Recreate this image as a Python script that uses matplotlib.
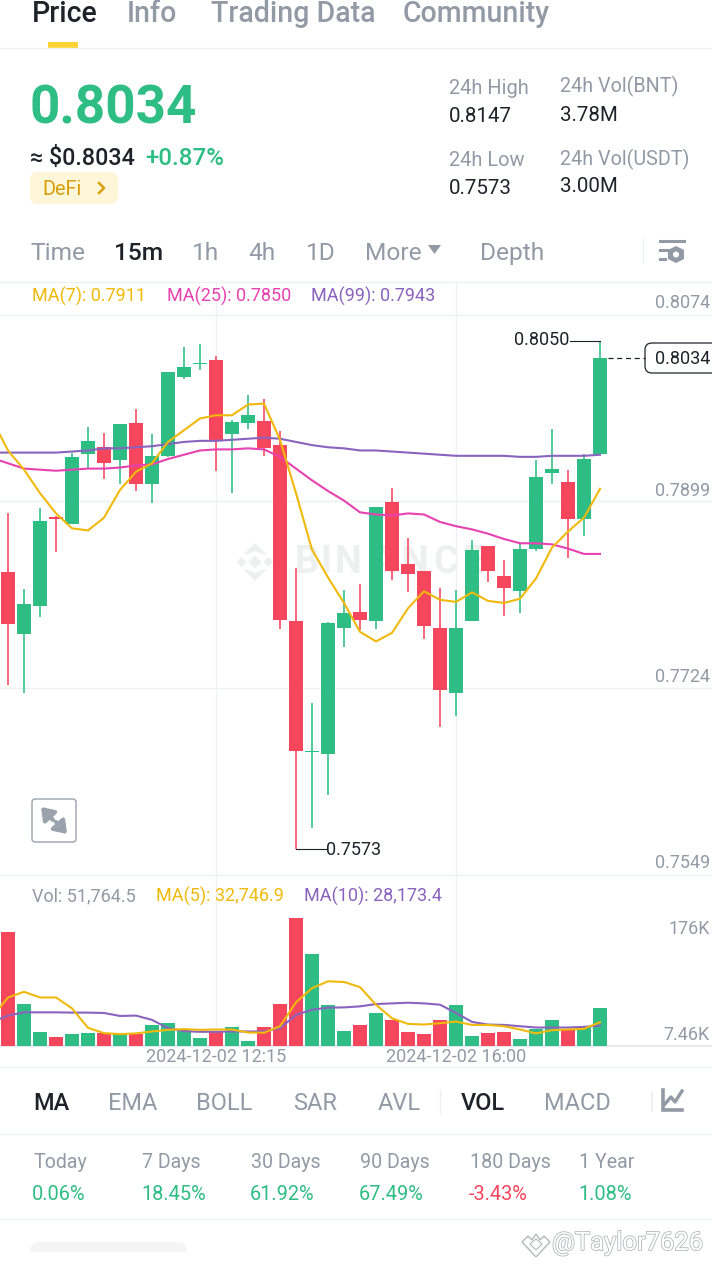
import matplotlib
matplotlib.use('Agg')
import matplotlib.pyplot as plt
from matplotlib.patches import FancyBboxPatch, Polygon, Rectangle
import matplotlib.patheffects as pe

plt.rcParams['font.family'] = ['Roboto', 'DejaVu Sans']

W, H = 712, 1266
GREEN = '#2EBD85'
RED = '#F6465D'
YELLOW = '#F0B90B'
PINK = '#E841B0'
PURPLE = '#8A63BE'
GREY = '#929AA5'
DARK = '#1E2329'
LINE = '#EEF0F2'

# candles, 15m
open_ = [.7833, .7775, .7801, .7884, .7878, .7944, .7950, .7938, .7973, .7916,
         .7942, .8016, .8028, .8032, .7962, .7973, .7975, .7952, .7787, .7664,
         .7662, .7781, .7796, .7787, .7899, .7841, .7834, .7781, .7720, .7787,
         .7857, .7829, .7815, .7855, .7926, .7917, .7883, .7944]
high = [.7888, .7817, .7893, .7886, .7945, .7969, .7963, .7972, .7986, .7962,
        .8021, .8044, .8047, .8036, .7976, .7999, .7995, .7965, .7837, .7710,
        .7786, .7816, .7822, .7894, .7912, .7865, .7834, .7818, .7816, .7863,
        .7857, .7844, .7861, .7938, .7967, .7929, .7944, .8050]
low = [.7727, .7720, .7791, .7852, .7878, .7930, .7920, .7916, .7909, .7898,
       .7941, .8014, .8022, .7928, .7907, .7967, .7942, .7780, .7573, .7593,
       .7624, .7763, .7779, .7780, .7826, .7814, .7770, .7688, .7698, .7787,
       .7824, .7792, .7795, .7853, .7916, .7846, .7867, .7944]
close = [.7784, .7803, .7881, .7883, .7941, .7956, .7935, .7972, .7916, .7942,
         .8021, .8025, .8029, .7956, .7974, .7980, .7949, .7788, .7665, .7665,
         .7785, .7795, .7788, .7894, .7834, .7831, .7782, .7722, .7781, .7854,
         .7834, .7818, .7855, .7922, .7930, .7883, .7939, .8034]

# moving averages start one candle before the first visible one
ma7 = [.7976, .7947, .7929, .7907, .7888, .7874, .7872, .7884, .7910, .7927,
       .7935, .7955, .7966, .7977, .7980, .7980, .7990, .7991, .7957, .7907,
       .7854, .7828, .7804, .7777, .7768, .7776, .7799, .7815, .7807, .7805,
       .7814, .7806, .7804, .7808, .7827, .7856, .7871, .7884, .7911]
ma25 = [.7940, .7935, .7930, .7929, .7928, .7929, .7930, .7930, .7931, .7933,
        .7934, .7939, .7943, .7947, .7948, .7948, .7949, .7948, .7941, .7930,
        .7919, .7909, .7900, .7889, .7887, .7886, .7888, .7887, .7880, .7876,
        .7873, .7869, .7864, .7860, .7860, .7859, .7855, .7850, .7850]
ma99 = [.7945, .7945, .7945, .7945, .7945, .7946, .7947, .7949, .7949, .7950,
        .7951, .7953, .7955, .7956, .7956, .7957, .7958, .7959, .7958, .7955,
        .7952, .7950, .7949, .7947, .7947, .7946, .7945, .7944, .7943, .7942,
        .7942, .7942, .7942, .7941, .7941, .7942, .7942, .7942, .7943]

# volume in thousands
volume = [157, 57.7, 18.6, 11.8, 15.9, 18.2, 18, 15.9, 16.8, 29.1,
          31.3, 23.6, 11.4, 21.3, 25.9, 7.46, 25.9, 57.7, 176, 127,
          56.8, 21.3, 29.5, 45, 35.9, 18.6, 16.8, 36.3, 56.8, 13.2,
          17.7, 18.6, 9.1, 24, 35.9, 23.6, 25.9, 51.8]
vol_ma5 = [39.5, 66.7, 74.5, 66.7, 66.7, 51.8, 25, 17.7, 16.3, 17.3,
           20, 22.2, 23.2, 22.2, 22.7, 22.7, 18.6, 18.2, 27.2, 60,
           79.5, 89, 88, 81, 56.7, 38.1, 30.4, 29.5, 31.3, 33.6,
           29, 29, 27.2, 22.7, 17.3, 21.8, 22.7, 23.6, 32.7]
vol_ma10 = [32.7, 41.8, 46.3, 46.3, 46.3, 45.9, 45.9, 45.4, 41.3, 41.8,
            35.9, 24.5, 20.4, 19.5, 19.5, 20, 20, 20, 24.5, 42.7,
            49.9, 52.7, 53.1, 54.5, 57.7, 58.6, 59.5, 58.6, 56.8, 45.4,
            33.1, 29.5, 29, 27.2, 25.4, 25.4, 25.4, 26.3, 28.1]

price_ticks = ['0.8074', '0.7899', '0.7724', '0.7549']
tabs = ['Price', 'Info', 'Trading Data', 'Community']
intervals = ['Time', '15m', '1h', '4h', '1D', 'More', 'Depth']
indicators = ['MA', 'EMA', 'BOLL', 'SAR', 'AVL', 'VOL', 'MACD']
periods = ['Today', '7 Days', '30 Days', '90 Days', '180 Days', '1 Year']
period_vals = ['0.06%', '18.45%', '61.92%', '67.49%', '-3.43%', '1.08%']


def px_axes(fig, left, top, right, bottom, **kw):
    return fig.add_axes([left / W, 1 - bottom / H, (right - left) / W, (bottom - top) / H], **kw)


def txt(ax, x, y, s, size, color=GREY, ha='left', weight='normal'):
    # size is in pixels of the screenshot, y a bit lower since va=center counts the descent
    return ax.text(x, y + 1.5, s, fontsize=size * 0.72, color=color, ha=ha, va='center', weight=weight)


fig = plt.figure(figsize=(W / 100, H / 100), dpi=100, facecolor='white')

bg = fig.add_axes([0, 0, 1, 1], zorder=0)
bg.set_xlim(0, W)
bg.set_ylim(H, 0)
bg.axis('off')

# separators and grid
for y in [48, 282, 315, 501, 688, 875, 1067, 1134, 1219]:
    bg.plot([0, W], [y, y], color=LINE, lw=1.0)
for x in [216, 456]:
    bg.plot([x, x], [282, 1046], color=LINE, lw=1.0)
bg.plot([0, W], [1046, 1046], color='#E6E8EA', lw=1.4)
bg.plot([440, 440], [1090, 1113], color=LINE, lw=1.0)
bg.plot([652, 652], [1093, 1111], color=LINE, lw=1.5)
bg.plot([643, 643], [239, 263], color=LINE, lw=1.0)

# header
for x, s, c in zip([32, 127, 211, 403], tabs, [DARK, GREY, GREY, GREY]):
    txt(bg, x, 12, s, 28.5, c, weight='medium')
bg.add_patch(Rectangle((48, 42), 30, 6, color='#FCD535', lw=0))
txt(bg, 30, 107, '0.8034', 53, GREEN, weight='bold')
txt(bg, 30, 157, '≈ $0.8034', 23.3, DARK, weight='medium')
txt(bg, 145, 157, '+0.87%', 24, GREEN, weight='medium')
bg.add_patch(FancyBboxPatch((30, 172), 88, 32, boxstyle='round,pad=0,rounding_size=8',
                            fc='#FEF6D8', ec='none'))
txt(bg, 42, 188, 'DeFi', 20, '#D89F0B')
bg.plot([99, 104, 99], [183, 188, 193], color='#D89F0B', lw=1.8)

txt(bg, 449, 87, '24h High', 20)
txt(bg, 449, 115, '0.8147', 20.5, DARK)
txt(bg, 560, 85, '24h Vol(BNT)', 19.8)
txt(bg, 560, 114, '3.78M', 20.5, DARK)
txt(bg, 449, 159, '24h Low', 20)
txt(bg, 449, 187, '0.7573', 20.5, DARK)
txt(bg, 560, 158, '24h Vol(USDT)', 19.8)
txt(bg, 560, 185, '3.00M', 20.5, DARK)

for x, s, c, w in zip([30, 114, 192, 248, 306, 365, 480], intervals,
                      [GREY, DARK, GREY, GREY, GREY, GREY, GREY],
                      ['normal', 'medium', 'normal', 'normal', 'normal', 'normal', 'normal']):
    txt(bg, x, 252, s, 24.5, c, weight=w)
bg.add_patch(Polygon([[428, 245], [441, 245], [434.5, 254]], fc=GREY, ec='none'))
# settings icon
bg.plot([660, 684], [241, 241], color=GREY, lw=2.2)
bg.plot([660, 671], [250, 250], color=GREY, lw=2.2)
bg.plot([660, 665], [259, 259], color=GREY, lw=2.2)
bg.add_patch(Polygon([[676, 246], [684, 250], [684, 259], [676, 263], [668, 259], [668, 250]],
                     fc=GREY, ec='none'))
bg.add_patch(plt.Circle((676, 254.5), 3, fc='white', ec='none'))

# BINANCE watermark, under the candles
wm = '#EEF0F0'
cx, cy = 255, 562
for dx, dy, r in [(0, 0, 6.5), (-13.5, 0, 5), (13.5, 0, 5)]:
    bg.add_patch(Polygon([[cx + dx - r, cy + dy], [cx + dx, cy + dy - r],
                          [cx + dx + r, cy + dy], [cx + dx, cy + dy + r]], fc=wm, ec='none'))
for s in [-1, 1]:
    bg.add_patch(Polygon([[cx - 12, cy + s * 7], [cx, cy + s * 19], [cx + 12, cy + s * 7],
                          [cx + 7, cy + s * 8], [cx, cy + s * 11], [cx - 7, cy + s * 8]],
                         fc=wm, ec='none', closed=True))
for x, s in zip([295, 320, 335, 370, 402, 433, 463], 'BINANCE'):
    txt(bg, x, 561, s, 38, wm, weight='bold')

# chart legends
for x, s, c in zip([32, 167, 311], ['MA(7): 0.7911', 'MA(25): 0.7850', 'MA(99): 0.7943'],
                   [YELLOW, PINK, PURPLE]):
    txt(bg, x, 295, s, 18, c)
for x, s, c in zip([32, 156, 304], ['Vol: 51,764.5', 'MA(5): 32,746.9', 'MA(10): 28,173.4'],
                   [GREY, YELLOW, PURPLE]):
    txt(bg, x, 895, s, 18, c)

for y, s in zip([302, 489, 676, 862], price_ticks):
    txt(bg, 710, y, s, 18, ha='right')
txt(bg, 710, 928, '176K', 18, ha='right')
txt(bg, 710, 1034, '7.46K', 18, ha='right')
txt(bg, 216, 1056, '2024-12-02 12:15', 18, ha='center')
txt(bg, 456, 1056, '2024-12-02 16:00', 18, ha='center')

# expand button
bg.add_patch(FancyBboxPatch((32, 799), 44, 43, boxstyle='round,pad=0,rounding_size=3',
                            fc='white', ec='#9AA3AD', lw=1.0))
bg.annotate('', xy=(41, 807), xytext=(53, 820),
            arrowprops=dict(arrowstyle='-|>,head_width=0.5,head_length=0.7', color='#9AA3AD', lw=3, shrinkA=0, shrinkB=0))
bg.annotate('', xy=(67, 834), xytext=(56, 822),
            arrowprops=dict(arrowstyle='-|>,head_width=0.5,head_length=0.7', color='#9AA3AD', lw=3, shrinkA=0, shrinkB=0))

# indicator row
for x, s, c, w in zip([33, 108, 196, 293, 378, 461, 544], indicators,
                      [DARK, GREY, GREY, GREY, GREY, DARK, GREY],
                      ['medium', 'normal', 'normal', 'normal', 'normal', 'medium', 'normal']):
    txt(bg, x, 1102, s, 23.5, c, weight=w)
bg.plot([663, 663, 682], [1090, 1110, 1110], color=GREY, lw=2.6, solid_joinstyle='miter')
bg.plot([665, 671, 675, 682], [1104, 1097, 1102, 1091], color=GREY, lw=2.4)

# returns row
for x, s, v in zip([33, 142, 251, 360, 470, 579], periods, period_vals):
    txt(bg, x, 1161, s, 19.7)
    txt(bg, x - 1, 1193, v, 20, RED if v.startswith('-') else GREEN)

bg.add_patch(FancyBboxPatch((30, 1242), 157, 30, boxstyle='round,pad=0,rounding_size=10',
                            fc='#F5F5F5', ec='none'))
bg.add_patch(Rectangle((28, 1252), 162, 14, fc='white', ec='none'))

# candle axes
ax = px_axes(fig, 0, 315, W, 875, zorder=2)
ax.patch.set_alpha(0)
ax.axis('off')
ax.set_xlim(-0.5, 44)
ax.set_ylim(.7549, .8074)

idx = list(range(len(close)))
colors = [GREEN if c >= o else RED for o, c in zip(open_, close)]
ax.vlines(idx, low, high, colors=colors, lw=1.15, zorder=2)
bottoms = [min(o, c) for o, c in zip(open_, close)]
heights = [max(abs(c - o), .00012) for o, c in zip(open_, close)]
ax.bar(idx, heights, bottom=bottoms, width=0.86, color=colors, lw=0, zorder=3)

ma_x = [i - 1 for i in range(len(ma7))]
ax.plot(ma_x, ma99, color=PURPLE, lw=1.5, zorder=4)
ax.plot(ma_x, ma25, color=PINK, lw=1.5, zorder=5)
ax.plot(ma_x, ma7, color=YELLOW, lw=1.5, zorder=6)

# high, low and last price marks
hi_i = high.index(max(high))
lo_i = low.index(min(low))
ax.plot([hi_i - 1.85, hi_i], [high[hi_i], high[hi_i]], color=DARK, lw=0.8, zorder=4)
ax.text(hi_i - 1.9, high[hi_i] + .00003, '%.4f' % high[hi_i], fontsize=13, color=DARK, ha='right', va='center')
ax.plot([lo_i, lo_i + 1.85], [low[lo_i], low[lo_i]], color=DARK, lw=0.8, zorder=4)
ax.text(lo_i + 1.9, low[lo_i] - .00008, '%.4f' % low[lo_i], fontsize=13, color=DARK, ha='left', va='center')
ax.plot([37.5, 39.8], [close[-1], close[-1]], color=DARK, lw=0.9, ls=(0, (4, 3)), zorder=4)
bg.add_patch(FancyBboxPatch((645, 343), 90, 30, boxstyle='round,pad=0,rounding_size=7',
                            fc='white', ec=DARK, lw=0.9))
txt(bg, 710, 358, '%.4f' % close[-1], 18, DARK, ha='right')

# volume axes
ax2 = px_axes(fig, 0, 918, W, 1046, zorder=2)
ax2.patch.set_alpha(0)
ax2.axis('off')
ax2.set_xlim(-0.5, 44)
ax2.set_ylim(0, 176)
ax2.bar(idx, volume, width=0.86, color=colors, lw=0, zorder=2)
ax2.plot(ma_x, vol_ma10, color=PURPLE, lw=1.5, zorder=3)
ax2.plot(ma_x, vol_ma5, color=YELLOW, lw=1.5, zorder=4)

# upload watermark
top = fig.add_axes([0, 0, 1, 1], zorder=6)
top.set_xlim(0, W)
top.set_ylim(H, 0)
top.axis('off')
outline = [pe.withStroke(linewidth=1.2, foreground='#B4B8BC')]
t = top.text(703, 1243, '@Taylor7626', fontsize=18.4, color='white', ha='right', va='center')
t.set_path_effects(outline)
lx, ly = 536, 1245
top.add_patch(Polygon([[lx - 14, ly - 3], [lx - 8, ly - 9], [lx - 4, ly - 5], [lx, ly - 11], [lx + 4, ly - 5],
                       [lx + 8, ly - 9], [lx + 14, ly - 3], [lx, ly + 12]], fc='white', ec='#B4B8BC', lw=1.0))
top.add_patch(Polygon([[lx - 6, ly - 1], [lx, ly - 6], [lx + 6, ly - 1], [lx, ly + 5]], fc='white', ec='#B4B8BC', lw=0.8))

fig.savefig('out.png', dpi=100, facecolor='white')
